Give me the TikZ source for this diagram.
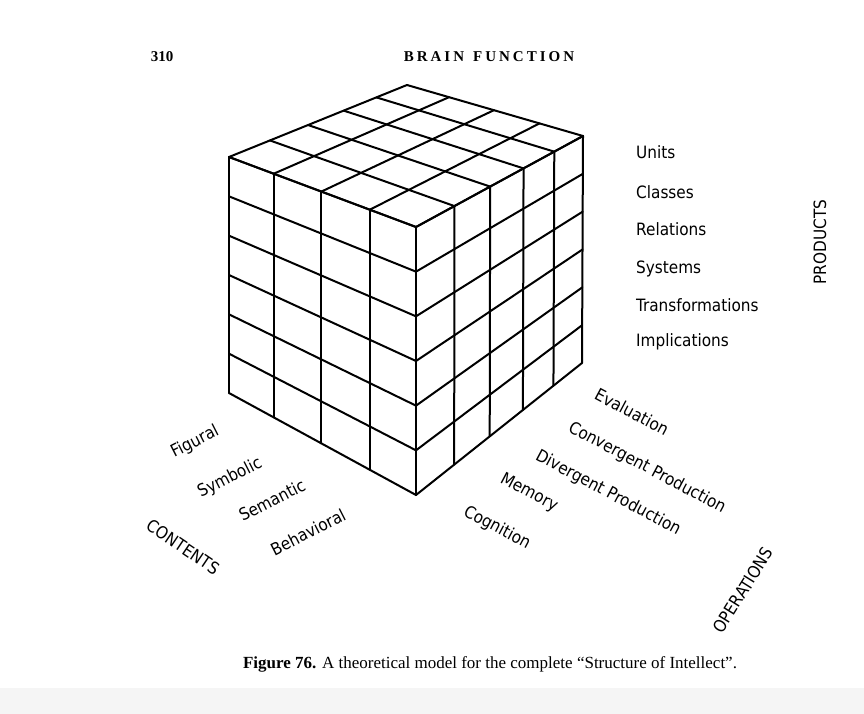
\documentclass[tikz,border=0pt]{standalone}
\usepackage{fontspec}
\setmainfont{Liberation Serif}
\newfontfamily\lab{DejaVu Sans Condensed}
\usetikzlibrary{calc}
\begin{document}
\begin{tikzpicture}[x=1pt,y=-1pt,
  grid/.style={line width=2pt,line cap=round,line join=round},
  lbl/.style={font=\lab\fontsize{17}{19}\selectfont,inner sep=0pt},
  axis/.style={font=\lab\fontsize{17}{19}\selectfont,inner sep=0pt}]
\useasboundingbox (0,0) rectangle (864,714);
\fill[gray!8] (0,688) rectangle (864,714);
\coordinate (L1) at (229,157);
\coordinate (F1) at (416,227);
\coordinate (F2) at (416,495);
\coordinate (L2) at (229,393);
\coordinate (R1) at (583,136);
\coordinate (R2) at (582,363);
\coordinate (B) at (407,85);
% left face
\foreach \t in {0,0.239,0.494,0.753,1}
  \draw[grid] ($(L1)!\t!(F1)$) -- ($(L2)!\t!(F2)$);
\foreach \s in {0,1,...,6}
  \draw[grid] ($(L1)!\s/6!(L2)$) -- ($(F1)!\s/6!(F2)$);
% right face
\foreach \t in {0,0.23,0.444,0.644,0.828,1}
  \draw[grid] ($(F1)!\t!(R1)$) -- ($(F2)!\t!(R2)$);
\foreach \s in {0,1,...,6}
  \draw[grid] ($(F1)!\s/6!(F2)$) -- ($(R1)!\s/6!(R2)$);
% top face
\foreach \t in {0,0.239,0.494,0.753,1}
  \draw[grid] ($(L1)!\t!(F1)$) -- ($(B)!\t!(R1)$);
\foreach \t in {0,0.23,0.444,0.644,0.828,1}
  \draw[grid] ($(F1)!\t!(R1)$) -- ($(L1)!\t!(B)$);
% header
\node[font=\bfseries\fontsize{15}{17}\selectfont] (pg) at (162,57) {310};
\node[font=\bfseries\fontsize{15}{17}\selectfont] (hd) at (489,57) {B\hspace{0.2em}R\hspace{0.2em}A\hspace{0.2em}I\hspace{0.2em}N\hspace{0.6em}F\hspace{0.2em}U\hspace{0.2em}N\hspace{0.2em}C\hspace{0.2em}T\hspace{0.2em}I\hspace{0.2em}O\hspace{0.2em}N};
% products
\foreach \n/\y/\txt in {u/152/Units,c/192/Classes,r/229/Relations,s/269/Systems,t/305/Transformations,i/342/Implications}
  \node[lbl,anchor=west] (p\n) at (636,\y) {\txt};
\node[axis,rotate=90] (prod) at (820,242) {PRODUCTS};
% operations
\node[lbl,rotate=-28] (ev) at (632,412) {Evaluation};
\node[lbl,rotate=-28] (cp) at (647,468) {Convergent Production};
\node[lbl,rotate=-28] (dp) at (608,493) {Divergent Production};
\node[lbl,rotate=-28] (me) at (529,493) {Memory};
\node[lbl,rotate=-28] (co) at (497,528) {Cognition};
\node[axis,rotate=58] (ops) at (743,590) {OPERATIONS};
% contents
\node[lbl,rotate=27] (fi) at (195,442) {Figural};
\node[lbl,rotate=27] (sy) at (230,478) {Symbolic};
\node[lbl,rotate=27] (se) at (272,500) {Semantic};
\node[lbl,rotate=27] (be) at (308,532) {Behavioral};
\node[axis,rotate=-34] (cont) at (183,547) {CONTENTS};
% caption
\node[font=\fontsize{17}{19}\selectfont] (cap) at (490,664) {\textbf{Figure 76.} A theoretical model for the complete ``Structure of Intellect''.};
\end{tikzpicture}
\end{document}
